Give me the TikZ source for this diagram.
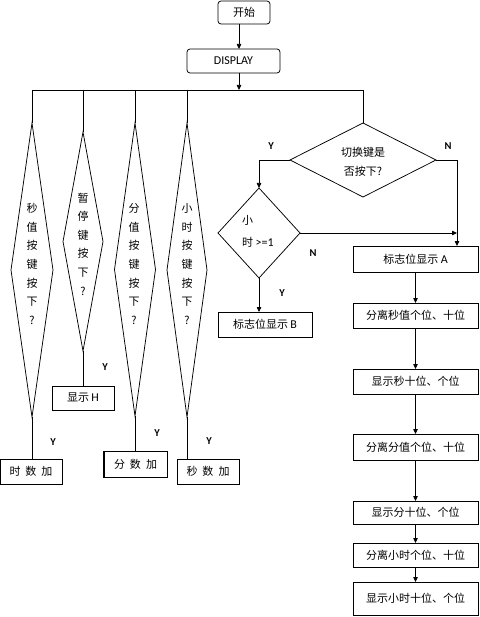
\documentclass[tikz,border=0pt]{standalone}
\usepackage{fontspec}
\setmainfont{Carlito}
\newfontfamily\cjk{Noto Sans CJK SC}
\usetikzlibrary{arrows.meta,shapes.geometric}
\newcommand{\lat}[1]{{\rmfamily\fontsize{12}{13}\selectfont #1}}
\tikzset{
  ln/.style={line width=0.75pt},
  arr/.style={ln, -{Triangle[length=5pt,width=4.5pt]}},
  box/.style={draw, ln, inner sep=0pt, outer sep=0pt, font=\cjk\fontsize{11}{13}\selectfont},
  rbox/.style={box, rounded corners=3pt},
  dia/.style={draw, ln, diamond, inner sep=0pt, outer sep=0pt},
  vtext/.style={align=center, inner sep=0pt, font=\cjk\fontsize{11}{18.6}\selectfont},
  ctext/.style={align=center, inner sep=0pt, font=\cjk\fontsize{11}{19}\selectfont},
  lab/.style={inner sep=0pt, font=\bfseries\fontsize{10.5}{11}\selectfont}
}
\begin{document}
\begin{tikzpicture}[x=1pt,y=-1pt]
\useasboundingbox (0,0) rectangle (479,617);

% top
\node[rbox, minimum width=52pt, minimum height=23pt] (start) at (244,12.5) {开始};
\node[rbox, minimum width=93pt, minimum height=24pt, font=\fontsize{12}{13}\selectfont] (disp) at (233.5,61) {DISPLAY};
\coordinate (ax) at (239,0);
\coordinate (bus) at (239,90);
\draw[arr] (start.south -| ax) -- (disp.north -| ax);
\draw[arr] (disp.south -| ax) -- (bus);

% diamonds
\node[dia, minimum width=42pt, minimum height=294pt] (d1) at (32,270) {};
\node[dia, minimum width=40pt, minimum height=219pt] (d2) at (83,241.5) {};
\node[dia, minimum width=41pt, minimum height=293pt] (d3) at (135,269.5) {};
\node[dia, minimum width=40pt, minimum height=294pt] (d4) at (187,270) {};
\node[dia, minimum width=146pt, minimum height=74pt] (sw) at (363,160) {};
\node[dia, minimum width=82pt, minimum height=90pt] (hr) at (259,233) {};

\node[vtext] (t1) at (32,264) {秒\\值\\按\\键\\按\\下\\?};
\node[vtext] (t2) at (83,244) {暂\\停\\键\\按\\下\\?};
\node[vtext] (t3) at (134,264) {分\\值\\按\\键\\按\\下\\?};
\node[vtext] (t4) at (187,264) {小\\时\\按\\键\\按\\下\\?};
\node[ctext] (tsw) at (363,162) {切换键是\\否按下?};
\node[ctext, anchor=west, align=left, font=\cjk\fontsize{11}{22}\selectfont] (thr) at (242,231) {小\\时 \lat{>=1}};

% bus
\draw[ln] (d1.north |- bus) -- (sw.north |- bus);
\draw[ln] (d1.north |- bus) -- (d1.north);
\draw[ln] (d2.north |- bus) -- (d2.north);
\draw[ln] (d3.north |- bus) -- (d3.north);
\draw[ln] (d4.north |- bus) -- (d4.north);
\draw[ln] (sw.north |- bus) -- (sw.north);

% bottom boxes of left diamonds
\node[box, minimum width=62pt, minimum height=25pt] (h1) at (31,471.5) {时\hspace{5pt}数\hspace{5pt}加};
\node[box, minimum width=62pt, minimum height=24pt] (hH) at (83,398) {显示 \lat{H}};
\node[box, minimum width=63pt, minimum height=26pt] (fm) at (135.5,464.5) {分\hspace{5pt}数\hspace{5pt}加};
\draw[line width=1.6pt] (fm.south west) -- (fm.north west) -- (fm.north east);
\node[box, minimum width=62pt, minimum height=25pt] (sm) at (208,471.5) {秒\hspace{5pt}数\hspace{5pt}加};

\draw[ln] (d1.south) -- (d1.south |- h1.north);
\draw[ln] (d2.south) -- (d2.south |- hH.north);
\draw[ln] (d3.south) -- (d3.south |- fm.north);
\draw[ln] (d4.south) -- (d4.south |- sm.north);

\node[lab] (y1) at (53,442) {Y};
\node[lab] (y2) at (105,367) {Y};
\node[lab] (y3) at (157,433) {Y};
\node[lab] (y4) at (209,441) {Y};

% switch branch
\node[box, minimum width=94pt, minimum height=25pt] (B) at (265,324.5) {标志位显示 \lat{B}};
\node[box, minimum width=125pt, minimum height=26pt] (A) at (415.5,259) {标志位显示 \lat{A}};
\coordinate (aN) at (457,246);
\coordinate (aJ) at (457,233);
\draw[arr] (sw.west) -| (hr.north);
\draw[arr] (sw.east) -| (aN);
\draw[arr] (hr.east) -- (aJ);
\draw[arr] (hr.south) -- (hr.south |- B.north);

\node[lab] (ysw) at (271,146) {Y};
\node[lab] (nsw) at (448,146) {N};
\node[lab] (nhr) at (313,253) {N};
\node[lab] (yhr) at (282,293) {Y};

% right column
\node[box, minimum width=125pt, minimum height=25pt] (s1) at (415.5,315.5) {分离秒值个位、十位};
\node[box, minimum width=125pt, minimum height=25pt] (s2) at (415.5,381.5) {显示秒十位、个位};
\node[box, minimum width=125pt, minimum height=26pt] (s3) at (415.5,447) {分离分值个位、十位};
\node[box, minimum width=125pt, minimum height=23pt] (s4) at (415.5,512.5) {显示分十位、个位};
\node[box, minimum width=125pt, minimum height=24pt] (s5) at (415.5,555) {分离小时个位、十位};
\node[box, minimum width=125pt, minimum height=33pt] (s6) at (415.5,598.5) {显示小时十位、个位};

\draw[arr] (A) -- (s1);
\draw[arr] (s1) -- (s2);
\draw[arr] (s2) -- (s3);
\draw[arr] (s3) -- (s4);
\draw[arr] (s4) -- (s5);
\draw[arr] (s5) -- (s6);
\end{tikzpicture}
\end{document}
